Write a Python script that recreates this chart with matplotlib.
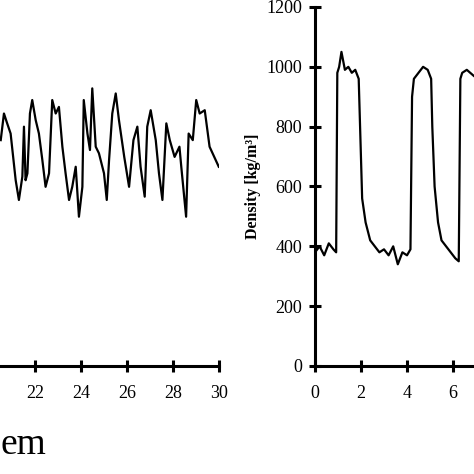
import matplotlib
matplotlib.use("Agg")
import matplotlib.pyplot as plt

plt.rcParams['font.family'] = ['Liberation Serif', 'DejaVu Serif']

left_t = [20.51,20.65,20.79,20.94,21.16,21.30,21.45,21.52,21.59,21.67,21.78,21.88,22.03,22.17,22.32,22.46,22.61,22.75,22.90,23.04,23.19,23.33,23.48,23.62,23.77,23.91,24.06,24.12,24.28,24.39,24.49,24.64,24.78,25.00,25.12,25.22,25.36,25.51,25.65,25.88,26.09,26.28,26.45,26.59,26.77,26.88,27.03,27.25,27.39,27.54,27.71,27.86,28.07,28.28,28.36,28.57,28.68,28.86,29.01,29.16,29.38,29.59,29.99]
left_v = [755,844,811,777,621,555,633,800,621,644,844,889,822,777,688,599,644,889,844,866,733,644,555,599,666,499,599,889,777,722,928,733,711,644,555,688,844,911,822,699,599,755,800,666,566,800,855,755,644,555,811,755,699,733,666,499,777,755,889,844,855,733,666]

right_t = [0,0.2,0.4,0.6,0.8,0.92,0.97,1.05,1.15,1.3,1.45,1.6,1.75,1.9,1.96,2.05,2.2,2.4,2.6,2.8,3.0,3.2,3.4,3.6,3.8,4.0,4.15,4.22,4.3,4.5,4.7,4.9,5.05,5.1,5.2,5.35,5.5,5.7,5.9,6.1,6.25,6.32,6.4,6.6,6.9]
right_v = [380,400,370,410,390,380,980,1000,1050,990,1000,980,990,960,800,560,480,420,400,380,390,370,400,340,380,370,390,900,960,980,1000,990,960,800,600,480,420,400,380,360,350,960,980,990,970]

fig = plt.figure(figsize=(4.74, 4.74), dpi=100)

def style(ax):
    for s in ['top', 'right']:
        ax.spines[s].set_visible(False)
    for s in ['left', 'bottom']:
        ax.spines[s].set_linewidth(2.2)
    ax.tick_params(direction='inout', length=8, width=2.2, labelsize=13)
    ax.tick_params(axis='x', pad=10)
    ax.tick_params(axis='y', pad=5)

axL = fig.add_axes([(219 - 20*23)/474, 1 - 366/474, 460/474, 359/474])
axL.plot(left_t, left_v, color='black', lw=1.6)
axL.set_xlim(10, 30)
axL.set_ylim(0, 1200)
axL.set_xticks(range(22, 31, 2))
axL.set_yticks([])
style(axL)

axR = fig.add_axes([315/474, 1 - 366/474, 230/474, 359/474])
axR.plot(right_t, right_v, color='black', lw=1.6)
axR.set_xlim(0, 10)
axR.set_ylim(0, 1200)
axR.set_xticks(range(0, 7, 2))
axR.set_yticks(range(0, 1201, 200))
axR.set_ylabel('Density [kg/m³]', fontweight='bold', fontsize=11.5, labelpad=4)
style(axR)

fig.text(0.0, 0.025, 'em', fontsize=27, ha='left', va='bottom')

fig.savefig('out.png', dpi=100)
